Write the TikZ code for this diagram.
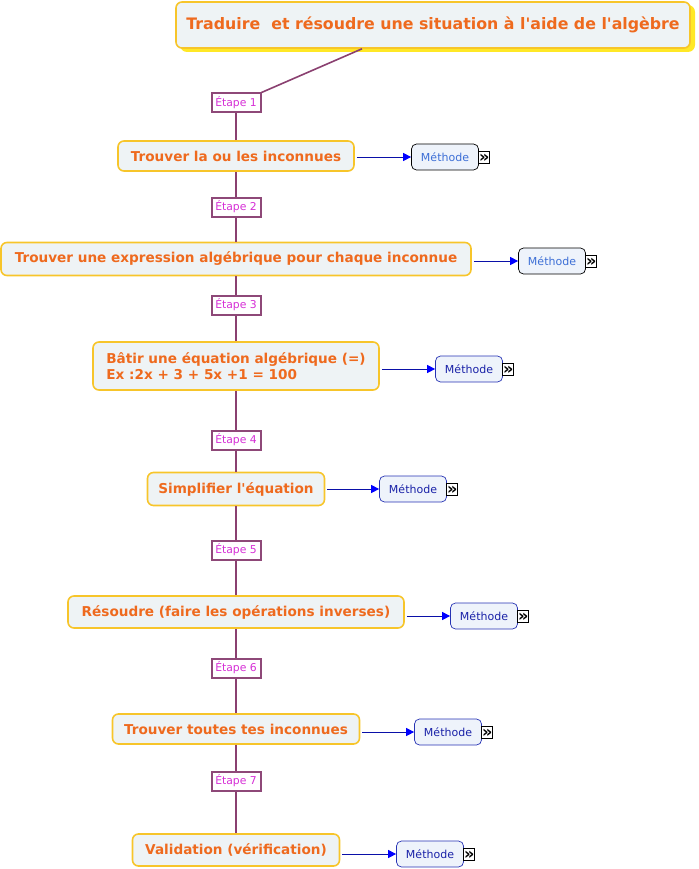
\documentclass[tikz,border=0pt]{standalone}
\usepackage{fontspec}
\setmainfont{DejaVu Sans}[Ligatures=TeXOff]
\usetikzlibrary{arrows.meta,positioning}
\definecolor{boxfill}{HTML}{EEF3F5}
\definecolor{boxborder}{HTML}{F7C52A}
\definecolor{orangetxt}{HTML}{EE6A1E}
\definecolor{etborder}{HTML}{8E4878}
\definecolor{ettxt}{HTML}{D62FD6}
\definecolor{connc}{HTML}{8A4070}
\definecolor{methfill}{HTML}{EEF3FB}
\definecolor{methtxtA}{HTML}{3D6FD6}
\definecolor{methtxtB}{HTML}{1A22A8}
\definecolor{methborderB}{HTML}{2632B4}
\definecolor{arrline}{HTML}{0A10A8}
\definecolor{shadowc}{HTML}{FFE826}
\tikzset{
  mainbox/.style={draw=boxborder, line width=1.6pt, fill=boxfill, rounded corners=6pt,
    text=orangetxt, font=\fontsize{13.6}{16.5}\selectfont\bfseries, inner sep=0pt, align=center},
  etbox/.style={draw=etborder, line width=2pt, fill=white, text=ettxt,
    font=\fontsize{10.8}{12}\selectfont, inner sep=0pt, minimum width=49pt, minimum height=19pt},
  methA/.style={draw=black, line width=0.7pt, fill=methfill, rounded corners=5pt, text=methtxtA,
    font=\fontsize{11}{12}\selectfont, inner sep=0pt, minimum width=67pt, minimum height=26pt},
  methB/.style={methA, draw=methborderB, text=methtxtB},
  icon/.style={draw=black, line width=0.7pt, fill=white, inner sep=0pt, minimum width=11pt,
    minimum height=12pt, text height=11pt, text depth=0pt, font=\fontsize{16}{16}\selectfont\bfseries, anchor=west},
  conn/.style={draw=connc, line width=1.6pt},
  arr/.style={draw=arrline, line width=0.8pt, -{Triangle[length=8pt,width=8pt,color=blue]}}
}
\begin{document}
\begin{tikzpicture}[x=1pt,y=-1pt]
\useasboundingbox (0,0) rectangle (698,869);
% title
\fill[shadowc, rounded corners=7pt] (180,5) rectangle (695,52);
\node[mainbox, minimum width=514pt, minimum height=46pt, font=\fontsize{15.8}{18}\selectfont\bfseries] (t) at (433,25) {Traduire\ \ et résoudre une situation à l'aide de l'algèbre};
% steps
\node[etbox] (e1) at (236,103) {Étape 1};
\node[etbox] (e2) at (236,207) {Étape 2};
\node[etbox] (e3) at (236,305) {Étape 3};
\node[etbox] (e4) at (236,440) {Étape 4};
\node[etbox] (e5) at (236,550) {Étape 5};
\node[etbox] (e6) at (236,668) {Étape 6};
\node[etbox] (e7) at (236,781) {Étape 7};
% boxes
\node[mainbox, minimum width=236pt, minimum height=30pt] (b1) at (236,156) {Trouver la ou les inconnues};
\node[mainbox, minimum width=470pt, minimum height=33pt] (b2) at (236,259) {Trouver une expression algébrique pour chaque inconnue};
\node[mainbox, minimum width=286pt, minimum height=48pt, align=left] (b3) at (236,366) {Bâtir une équation algébrique (=)\\Ex :2x + 3 + 5x +1 = 100};
\node[mainbox, minimum width=177pt, minimum height=33pt] (b4) at (236,489) {Simplifier l'équation};
\node[mainbox, minimum width=336pt, minimum height=32pt] (b5) at (236,612) {Résoudre (faire les opérations inverses)};
\node[mainbox, minimum width=247pt, minimum height=30pt] (b6) at (236,729) {Trouver toutes tes inconnues};
\node[mainbox, minimum width=207pt, minimum height=32pt] (b7) at (236,850) {Validation (vérification)};
% methods
\node[methA] (m1) at (445,157) {Méthode};
\node[methA] (m2) at (552,261) {Méthode};
\node[methB] (m3) at (469,369) {Méthode};
\node[methB] (m4) at (413,489) {Méthode};
\node[methB] (m5) at (484,616) {Méthode};
\node[methB] (m6) at (448,732) {Méthode};
\node[methB] (m7) at (430,854) {Méthode};
\foreach \i in {1,...,7} {
  \node[icon] (i\i) at ([xshift=-0.5pt]m\i.east) {»};
}
% connectors
\draw[conn] ([xshift=-71pt]t.south) -- (e1.north east);
\draw[conn] (e1) -- (b1);
\draw[conn] (b1) -- (e2); \draw[conn] (e2) -- (b2);
\draw[conn] (b2) -- (e3); \draw[conn] (e3) -- (b3);
\draw[conn] (b3) -- (e4); \draw[conn] (e4) -- (b4);
\draw[conn] (b4) -- (e5); \draw[conn] (e5) -- (b5);
\draw[conn] (b5) -- (e6); \draw[conn] (e6) -- (b6);
\draw[conn] (b6) -- (e7); \draw[conn] (e7) -- (b7);
% arrows
\foreach \i in {1,...,7} {
  \draw[arr] ([xshift=2pt]b\i.east |- m\i.west) -- (m\i.west);
}
\end{tikzpicture}
\end{document}
